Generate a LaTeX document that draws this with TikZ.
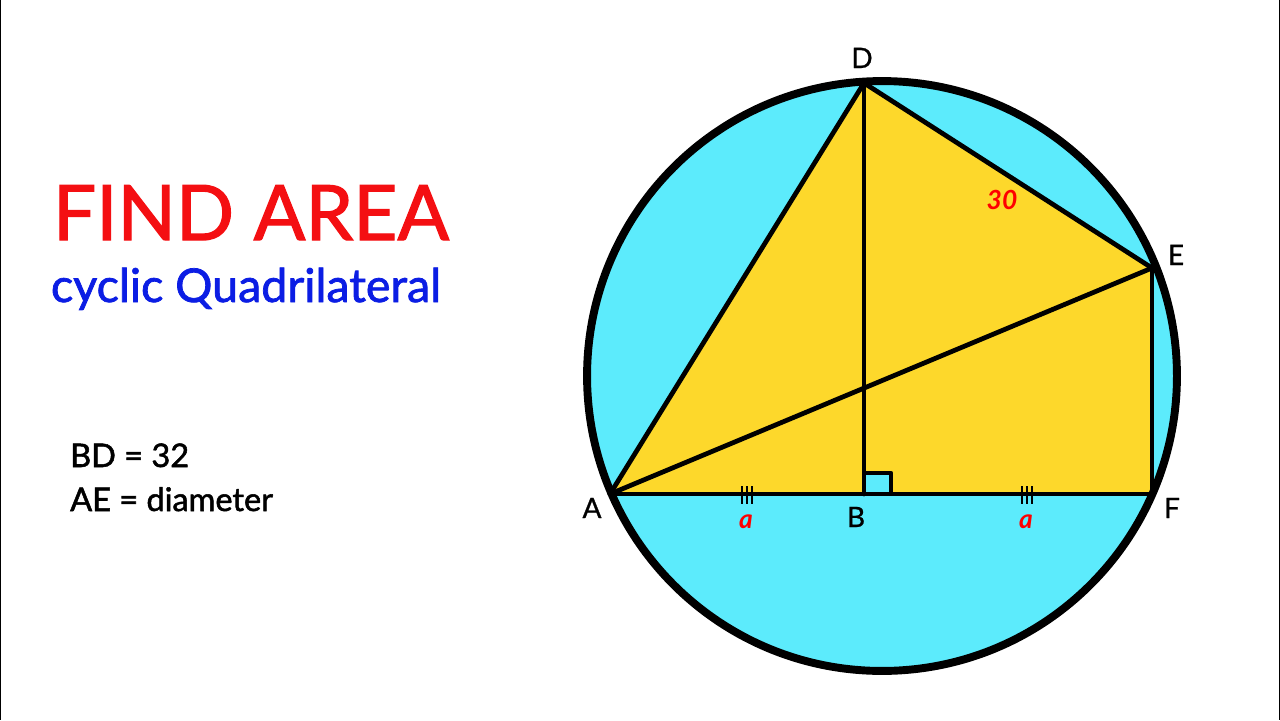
\documentclass[tikz,border=0pt]{standalone}
\usepackage{fontspec}
\setmainfont{Lato}
\newfontfamily\latosemi[FakeBold=1.6]{Lato}
\newfontfamily\latomed[FakeBold=0.8]{Lato}

\definecolor{sky}{HTML}{5CEBFC}
\definecolor{gold}{HTML}{FDD82B}
\definecolor{titlered}{HTML}{F40F12}
\definecolor{titleblue}{HTML}{0B1DE4}

\begin{document}
\begin{tikzpicture}[x=0.02cm,y=-0.02cm]

      \useasboundingbox (0,0) rectangle (1280,720);
      \draw[line width=1pt] (0,0) -- (0,720);
      \draw[line width=1pt] (1280,0) -- (1280,720);

      % the points
      \coordinate (O) at (882,376);
      \coordinate (A) at (610,494);
      \coordinate (B) at (864,494);
      \coordinate (D) at (864,83);
      \coordinate (E) at (1152,268);
      \coordinate (F) at (1152,494);

      \fill[sky] (O) circle[radius=5.9cm];
      \fill[gold] (A) -- (D) -- (E) -- (F) -- cycle;

      \begin{scope}[line width=2.7pt,line join=round,line cap=round]
        \draw (A) -- (F);
        \draw (A) -- (D);
        \draw (D) -- (E);
        \draw (E) -- (F);
        \draw (D) -- (B);
        \draw (A) -- (E);
        \draw[fill=sky] (B) rectangle ++(27,-21);
      \end{scope}

      \draw[line width=4.5pt] (O) circle[radius=5.9cm];

      % equal parts
      \foreach \x in {747,1027} {
        \foreach \d in {-5,0,5}
          \draw[line width=1.6pt] (\x+\d,486) -- (\x+\d,504);
      }

      \begin{scope}[every node/.style={anchor=base,font=\latomed\fontsize{16}{19}\selectfont}]
        \node (dlab) at (862,68) {D};
        \node (elab) at (1176,265) {E};
        \node (alab) at (592,518) {A};
        \node (blab) at (856,527) {B};
        \node (flab) at (1172,518) {F};
      \end{scope}

      \begin{scope}[every node/.style={text=red,font=\bfseries\itshape\fontsize{15}{18}\selectfont}]
        \node (a1) at (746,522) {a};
        \node (a2) at (1026,522) {a};
        \node (side) at (1002,200) {30};
      \end{scope}

      \node[anchor=base,text=titlered,font=\latosemi\fontsize{43.5}{50}\selectfont] (title) at (251,240) {FIND AREA};
      \node[anchor=base,text=titleblue,font=\latosemi\fontsize{26.5}{32}\selectfont] (sub) at (246,302) {cyclic Quadrilateral};

      \begin{scope}[every node/.style={anchor=base west,font=\latosemi\fontsize{18.5}{22}\selectfont}]
        \node (given1) at (64,467) {BD = 32};
        \node (given2) at (64,511) {AE = diameter};
      \end{scope}

    \end{tikzpicture}
\end{document}
